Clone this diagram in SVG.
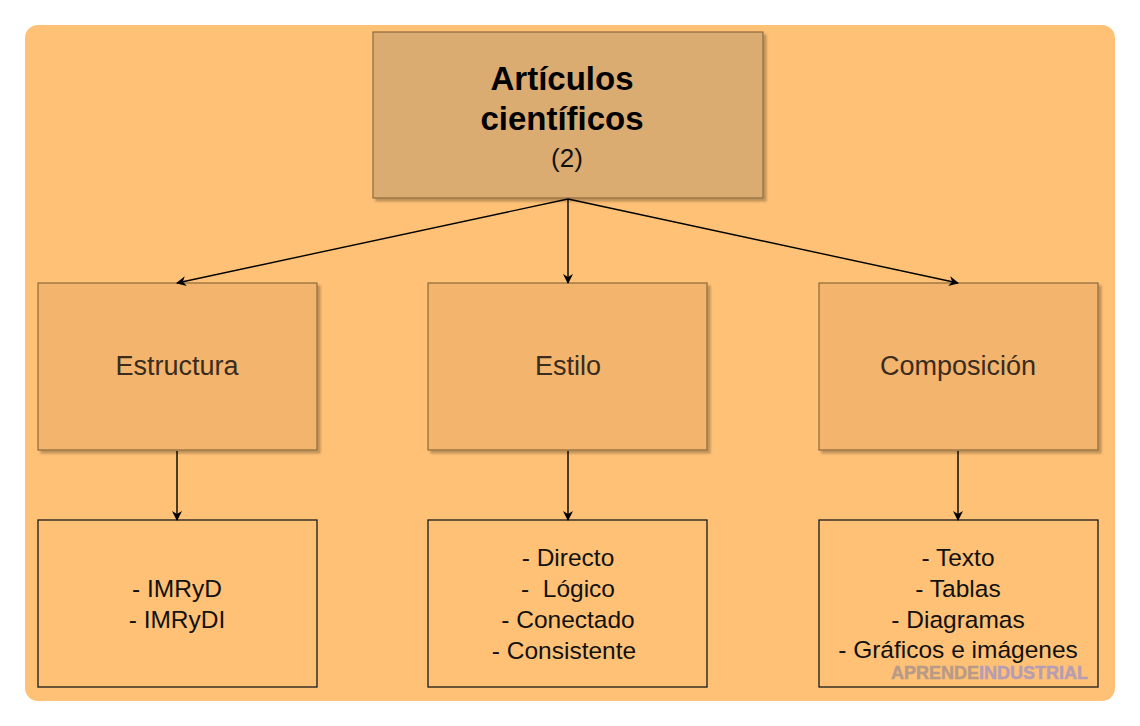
<svg xmlns="http://www.w3.org/2000/svg" width="1140" height="726" viewBox="0 0 1140 726">
<defs>
<marker id="arr" viewBox="0 0 10 10" refX="9" refY="5" markerWidth="10" markerHeight="10" markerUnits="userSpaceOnUse" orient="auto">
<path d="M0,0 L10,5 L0,10 L3,5 Z" fill="#000"/>
</marker>
<filter id="sh" x="-5%" y="-5%" width="115%" height="115%">
<feDropShadow dx="3" dy="3" stdDeviation="1" flood-color="#000" flood-opacity="0.25"/>
</filter>
<style>
text{font-family:"Liberation Sans",Arial,sans-serif;text-anchor:middle}
.mid{fill:#F3B46D;stroke:#8A6A3E;stroke-width:1.2}
.bot{fill:#FFC176;stroke:#1a1a1a;stroke-width:1.3}
.lbl{font-size:27px;fill:#3a2c1e}
.lst{font-size:24.5px;fill:#111}
.con{stroke:#000;stroke-width:1.4;fill:none;marker-end:url(#arr)}
</style>
</defs>
<rect x="0" y="0" width="1140" height="726" fill="#fff"/>
<rect x="25" y="25" width="1090" height="676" rx="13" fill="#FFC176"/>
<g id="n-root">
<rect x="373" y="32" width="390" height="166" fill="#DBAC72" stroke="#8A6A3E" stroke-width="1.2" filter="url(#sh)"/>
<text x="562" y="90" font-size="33" font-weight="bold" fill="#000">Artículos</text>
<text x="562" y="130" font-size="33" font-weight="bold" fill="#000">científicos</text>
<text x="567" y="167" font-size="26" fill="#111">(2)</text>
</g>
<g id="n-estructura">
<rect class="mid" x="38" y="283" width="279" height="167" filter="url(#sh)"/>
<text class="lbl" x="177" y="375">Estructura</text>
</g>
<g id="n-estilo">
<rect class="mid" x="428" y="283" width="279" height="167" filter="url(#sh)"/>
<text class="lbl" x="568" y="375">Estilo</text>
</g>
<g id="n-composicion">
<rect class="mid" x="819" y="283" width="279" height="167" filter="url(#sh)"/>
<text class="lbl" x="958" y="375">Composición</text>
</g>
<g id="n-imryd">
<rect class="bot" x="38" y="520" width="279" height="167"/>
<text class="lst" x="177" y="597">- IMRyD</text>
<text class="lst" x="177" y="628">- IMRyDI</text>
</g>
<g id="n-estilo-list">
<rect class="bot" x="428" y="520" width="279" height="167"/>
<text class="lst" x="568" y="566">- Directo</text>
<text class="lst" x="568" y="597" xml:space="preserve">-  Lógico</text>
<text class="lst" x="568" y="628">- Conectado</text>
<text class="lst" x="564" y="659">- Consistente</text>
</g>
<g id="n-comp-list">
<rect class="bot" x="819" y="520" width="279" height="167"/>
<text class="lst" x="958" y="566">- Texto</text>
<text class="lst" x="958" y="597">- Tablas</text>
<text class="lst" x="958" y="628">- Diagramas</text>
<text class="lst" x="958" y="658">- Gráficos e imágenes</text>
</g>
<g id="connectors">
<line class="con" x1="568" y1="199" x2="177" y2="283"/>
<line class="con" x1="568" y1="199" x2="568" y2="283"/>
<line class="con" x1="568" y1="199" x2="958" y2="283"/>
<line class="con" x1="177" y1="451" x2="177" y2="520"/>
<line class="con" x1="568" y1="451" x2="568" y2="520"/>
<line class="con" x1="958" y1="451" x2="958" y2="520"/>
</g>
<text x="989.5" y="679" font-size="18" font-weight="bold" font-family="'Liberation Sans',Arial,sans-serif" stroke-width="0.5"><tspan fill="#B89A86" stroke="#B89A86">APRENDE</tspan><tspan fill="#B79DB4" stroke="#B79DB4">INDUSTRIAL</tspan></text>
</svg>
